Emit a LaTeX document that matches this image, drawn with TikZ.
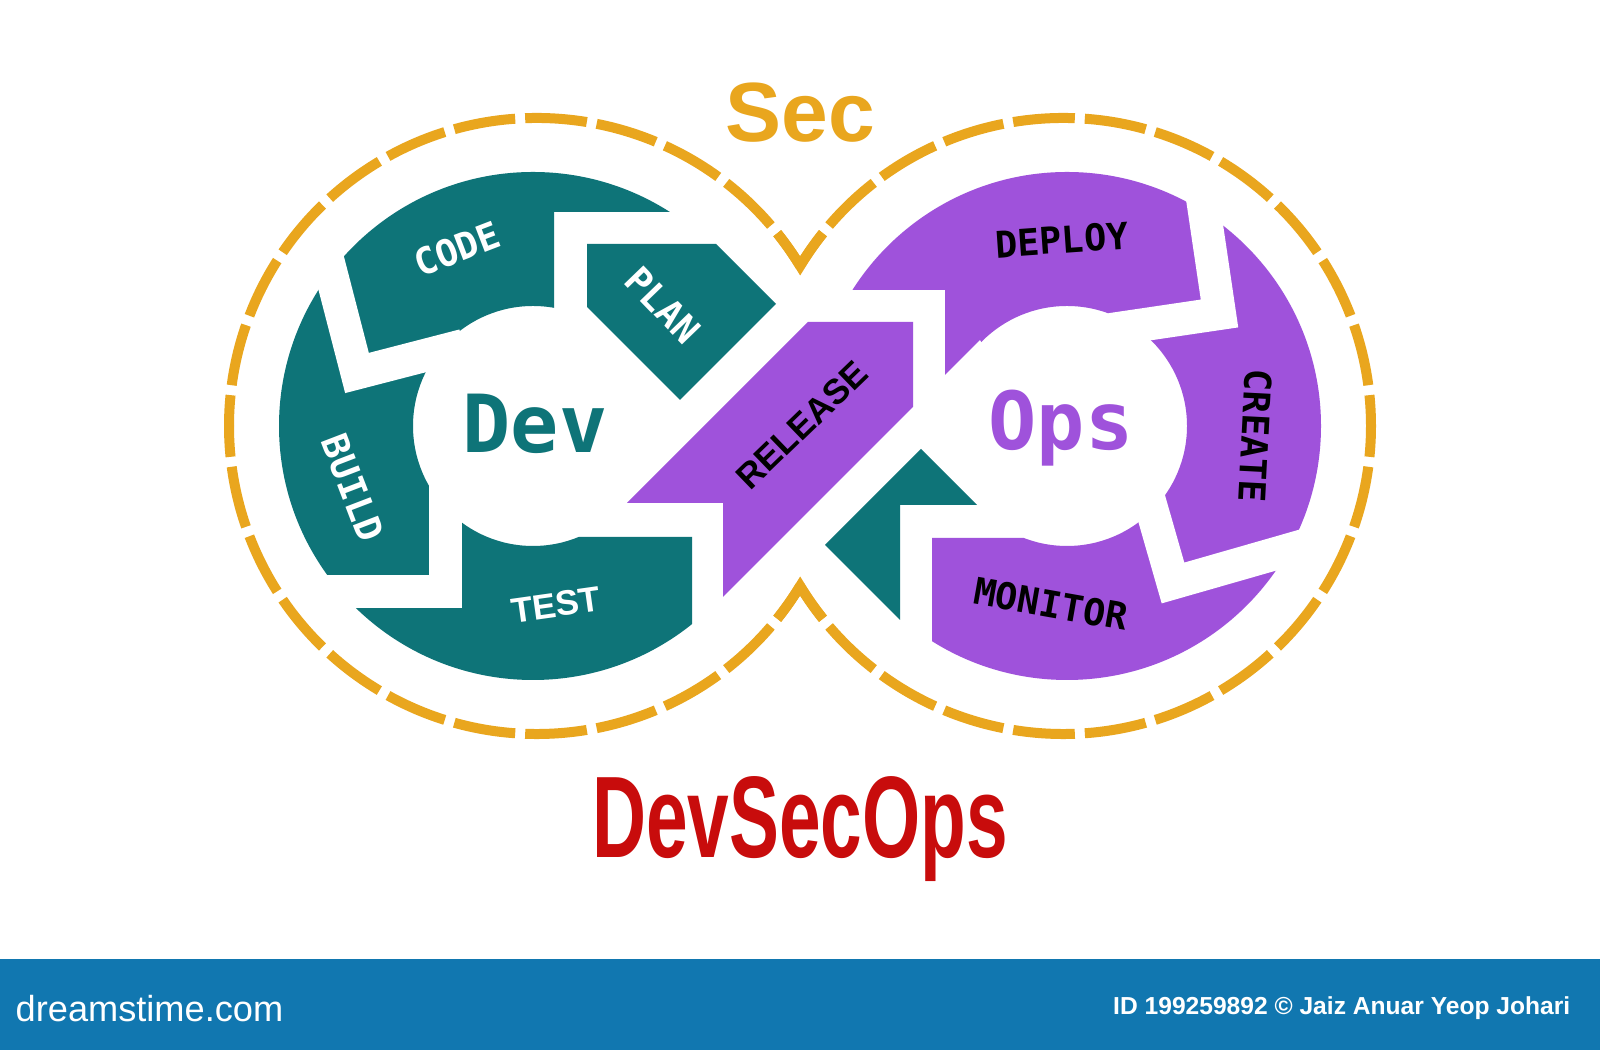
\documentclass[tikz,border=0pt]{standalone}
\usepackage{fontspec}
\setmainfont{Liberation Sans}
\newfontfamily\labelmono{DejaVu Sans Mono}
\newfontfamily\titlefont[FakeStretch=0.645]{Liberation Sans}
\usetikzlibrary{positioning}

\definecolor{devteal}{RGB}{14,116,120}
\definecolor{opspurple}{RGB}{159,82,219}
\definecolor{secgold}{RGB}{233,166,30}
\definecolor{titlered}{RGB}{200,12,12}
\definecolor{barblue}{RGB}{17,119,176}

\begin{document}
\begin{tikzpicture}[x=0.1mm, y=0.1mm,
    gapline/.style={draw=white, line width=3.3mm, line join=miter},
    secline/.style={draw=secgold, line width=1mm},
    secdash/.style={secline, dash pattern=on 6.185mm off 1mm, dash phase=2.185mm},
    monolabel/.style={inner sep=0pt, font=\labelmono\bfseries\fontsize{10.5pt}{12pt}\selectfont},
    sanslabel/.style={inner sep=0pt, font=\bfseries\fontsize{10pt}{12pt}\selectfont}]

\useasboundingbox (0,0) rectangle (1600,1050);
\fill[white] (0,0) rectangle (1600,1050);

\coordinate (devc) at (533,624);
\coordinate (opsc) at (1067,624);

% Dev ring: CODE, BUILD, TEST
\begin{scope}
    \clip (250,950) -- (800,950) -- (800,838) -- (554,838) -- (554,513)
        -- (692,513) -- (692,330) -- (250,330) -- cycle;
    \fill[devteal, even odd rule] (devc) circle[radius=254] (devc) circle[radius=120];
\end{scope}

% Ops ring: DEPLOY, CREATE, MONITOR
\begin{scope}
    \clip (800,950) -- (1400,950) -- (1400,290) -- (932,290) -- (932,512)
        -- (1040,512) -- (1040,624) -- (980,710) -- (945,675) -- (945,760)
        -- (800,760) -- cycle;
    \fill[opspurple, even odd rule] (opsc) circle[radius=254] (opsc) circle[radius=120];
\end{scope}

% Macro: white stepped gap between two segments
\newcommand{\segjoint}[3]{
    \draw[gapline] ([shift={(#2:140)}]#1) -- (#1) -- ([shift={(#3:110)}]#1);
}
\coordinate (codebuild) at (357,677);
\coordinate (buildtest) at (445.5,458.5);
\coordinate (deploycreate) at (1219.5,736.5);
\coordinate (createmonitor) at (1173,467);
\segjoint{codebuild}{104.5}{14.5}
\segjoint{buildtest}{180}{90}
\segjoint{deploycreate}{98.4}{188.4}
\segjoint{createmonitor}{16}{106}

% Crossing arrows
\fill[devteal] (587,806) -- (716,806) -- (776,746) -- (680,650) -- (587,743) -- cycle;
\fill[devteal] (825,505) -- (921,601) -- (977,545) -- (900,545) -- (900,430) -- cycle;
\fill[opspurple] (627,547) -- (808,728) -- (913,728) -- (913,643) -- (723,453)
    -- (723,547) -- cycle;

% Labels
\node[monolabel, white, rotate=21] (code) at (457,801) {CODE};
\node[monolabel, white, rotate=-46] (plan) at (663,745) {PLAN};
\node[monolabel, white, rotate=-69] (build) at (353,562) {BUILD};
\node[sanslabel, white, rotate=8] (test) at (556,445) {TEST};
\node[sanslabel, black, rotate=44] (release) at (802,625) {RELEASE};
\node[monolabel, black, rotate=4] (deploy) at (1062,810) {DEPLOY};
\node[monolabel, black, rotate=-93] (create) at (1255,614) {CREATE};
\node[monolabel, black, rotate=-10] (monitor) at (1051,446) {MONITOR};

\node[anchor=base, inner sep=0pt, devteal,
    font=\labelmono\bfseries\fontsize{22.8pt}{24pt}\selectfont] (dev) at (535,597) {Dev};
\node[anchor=base, inner sep=0pt, opspurple,
    font=\labelmono\bfseries\fontsize{22.8pt}{24pt}\selectfont] (ops) at (1061,600) {Ops};

% Sec outline
\coordinate (secl) at (537,624);
\coordinate (secr) at (1063,624);
\draw[secdash] ([shift={(31.3:308)}]secl) arc[start angle=31.3, end angle=180, radius=308];
\draw[secdash] ([shift={(-31.3:308)}]secl) arc[start angle=-31.3, end angle=-180, radius=308];
\draw[secdash] ([shift={(148.7:308)}]secr) arc[start angle=148.7, end angle=0, radius=308];
\draw[secdash] ([shift={(-148.7:308)}]secr) arc[start angle=-148.7, end angle=0, radius=308];
\draw[secline, line join=miter] ([shift={(38.74:308)}]secl)
    arc[start angle=38.74, end angle=31.3, radius=308]
    arc[start angle=148.7, end angle=141.26, radius=308];
\draw[secline, line join=miter] ([shift={(-38.74:308)}]secl)
    arc[start angle=-38.74, end angle=-31.3, radius=308]
    arc[start angle=-148.7, end angle=-141.26, radius=308];

\node[anchor=base, inner sep=0pt, secgold,
    font=\bfseries\fontsize{23.9pt}{26pt}\selectfont] (sec) at (800,908) {Sec};

% Title
\node[anchor=base, inner sep=0pt, titlered,
    font=\titlefont\bfseries\fontsize{33pt}{36pt}\selectfont] (title) at (800,192) {DevSecOps};

% Footer bar
\fill[barblue] (0,0) rectangle (1600,91);
\node[anchor=base west, inner sep=0pt, white,
    font=\fontsize{10.3pt}{12pt}\selectfont] (brand) at (15,28) {dreamstime.com};
\node[anchor=base east, inner sep=0pt, white,
    font=\bfseries\fontsize{7pt}{8pt}\selectfont] (credit) at (1571,35)
    {ID 199259892 © Jaiz Anuar Yeop Johari};

\end{tikzpicture}
\end{document}
